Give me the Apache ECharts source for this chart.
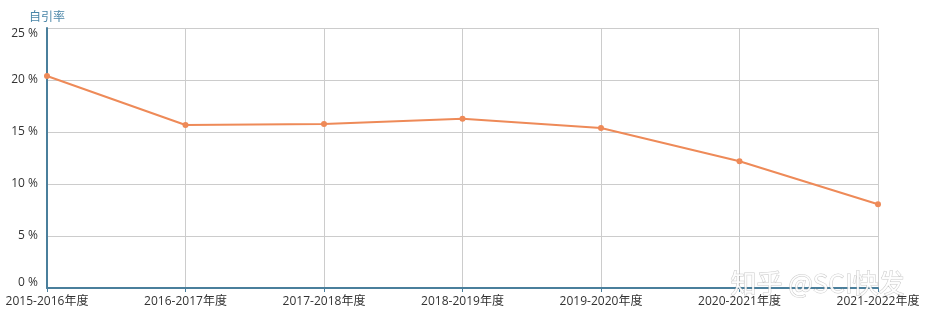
<!DOCTYPE html>
<html>
<head>
<meta charset="utf-8">
<script src="https://cdn.jsdelivr.net/npm/echarts@6/dist/echarts.min.js"></script>
<style>html,body{margin:0;padding:0;background:#fff;}#c{width:929px;height:324px;}</style>
</head>
<body>
<div id="c"></div>
<script>
var categories = ['2015-2016年度','2016-2017年度','2017-2018年度','2018-2019年度','2019-2020年度','2020-2021年度','2021-2022年度'];
var selfCitationRate = [20.38, 15.67, 15.77, 16.27, 15.38, 12.18, 8.05];
var yTicks = [0, 5, 10, 15, 20, 25];
var axisName = '自引率';
var watermark = '知乎 @SCI快发';

var yMin = yTicks[0], yMax = yTicks[yTicks.length - 1];
var chart = echarts.init(document.getElementById('c'));
chart.setOption({
  animation: false,
  textStyle: { fontFamily: '"Open Sans","Noto Sans CJK SC",sans-serif' },
  grid: { left: 47, right: 51, top: 28, bottom: 36, containLabel: false },
  xAxis: {
    type: 'category',
    data: categories,
    boundaryGap: false,
    axisLine: { lineStyle: { color: '#4a7f9c', width: 2 } },
    axisTick: { show: true, alignWithLabel: true, lineStyle: { color: '#4a7f9c' }, length: 4 },
    axisLabel: { color: '#333', fontSize: 12, margin: 8, interval: 0 },
    splitLine: { show: true, lineStyle: { color: '#ccc', width: 1 } }
  },
  yAxis: {
    type: 'value',
    min: yMin,
    max: yMax,
    interval: 5,
    name: axisName,
    nameLocation: 'end',
    nameGap: 4,
    nameTextStyle: { color: '#4a86a8', fontSize: 12, align: 'center' },
    axisLine: { show: true, lineStyle: { color: '#4a7f9c', width: 2 } },
    axisTick: { show: false },
    axisLabel: {
      color: '#333', fontSize: 12, margin: 9,
      formatter: function (v) {
        if (v === yMax) return '{top|' + v + ' %}';
        if (v === yMin) return '{bot|' + v + ' %}';
        return v + ' %';
      },
      rich: {
        top: { color: '#333', fontSize: 12, padding: [11, 0, 0, 0] },
        bot: { color: '#333', fontSize: 12, padding: [0, 0, 11, 0] }
      }
    },
    splitLine: { show: true, lineStyle: { color: '#ccc', width: 1 } }
  },
  series: [{
    type: 'line',
    data: selfCitationRate,
    symbol: 'circle',
    symbolSize: 6,
    itemStyle: { color: '#ee8a58' },
    lineStyle: { color: '#ee8a58', width: 2 }
  }],
  graphic: [{
    type: 'text',
    right: 24,
    top: 270,
    z: 100,
    style: {
      text: watermark,
      font: '26px "Noto Sans CJK SC", sans-serif',
      fill: 'rgba(255,255,255,0.9)',
      stroke: 'rgba(120,120,120,0.4)',
      lineWidth: 1
    }
  }]
});
</script>
</body>
</html>
